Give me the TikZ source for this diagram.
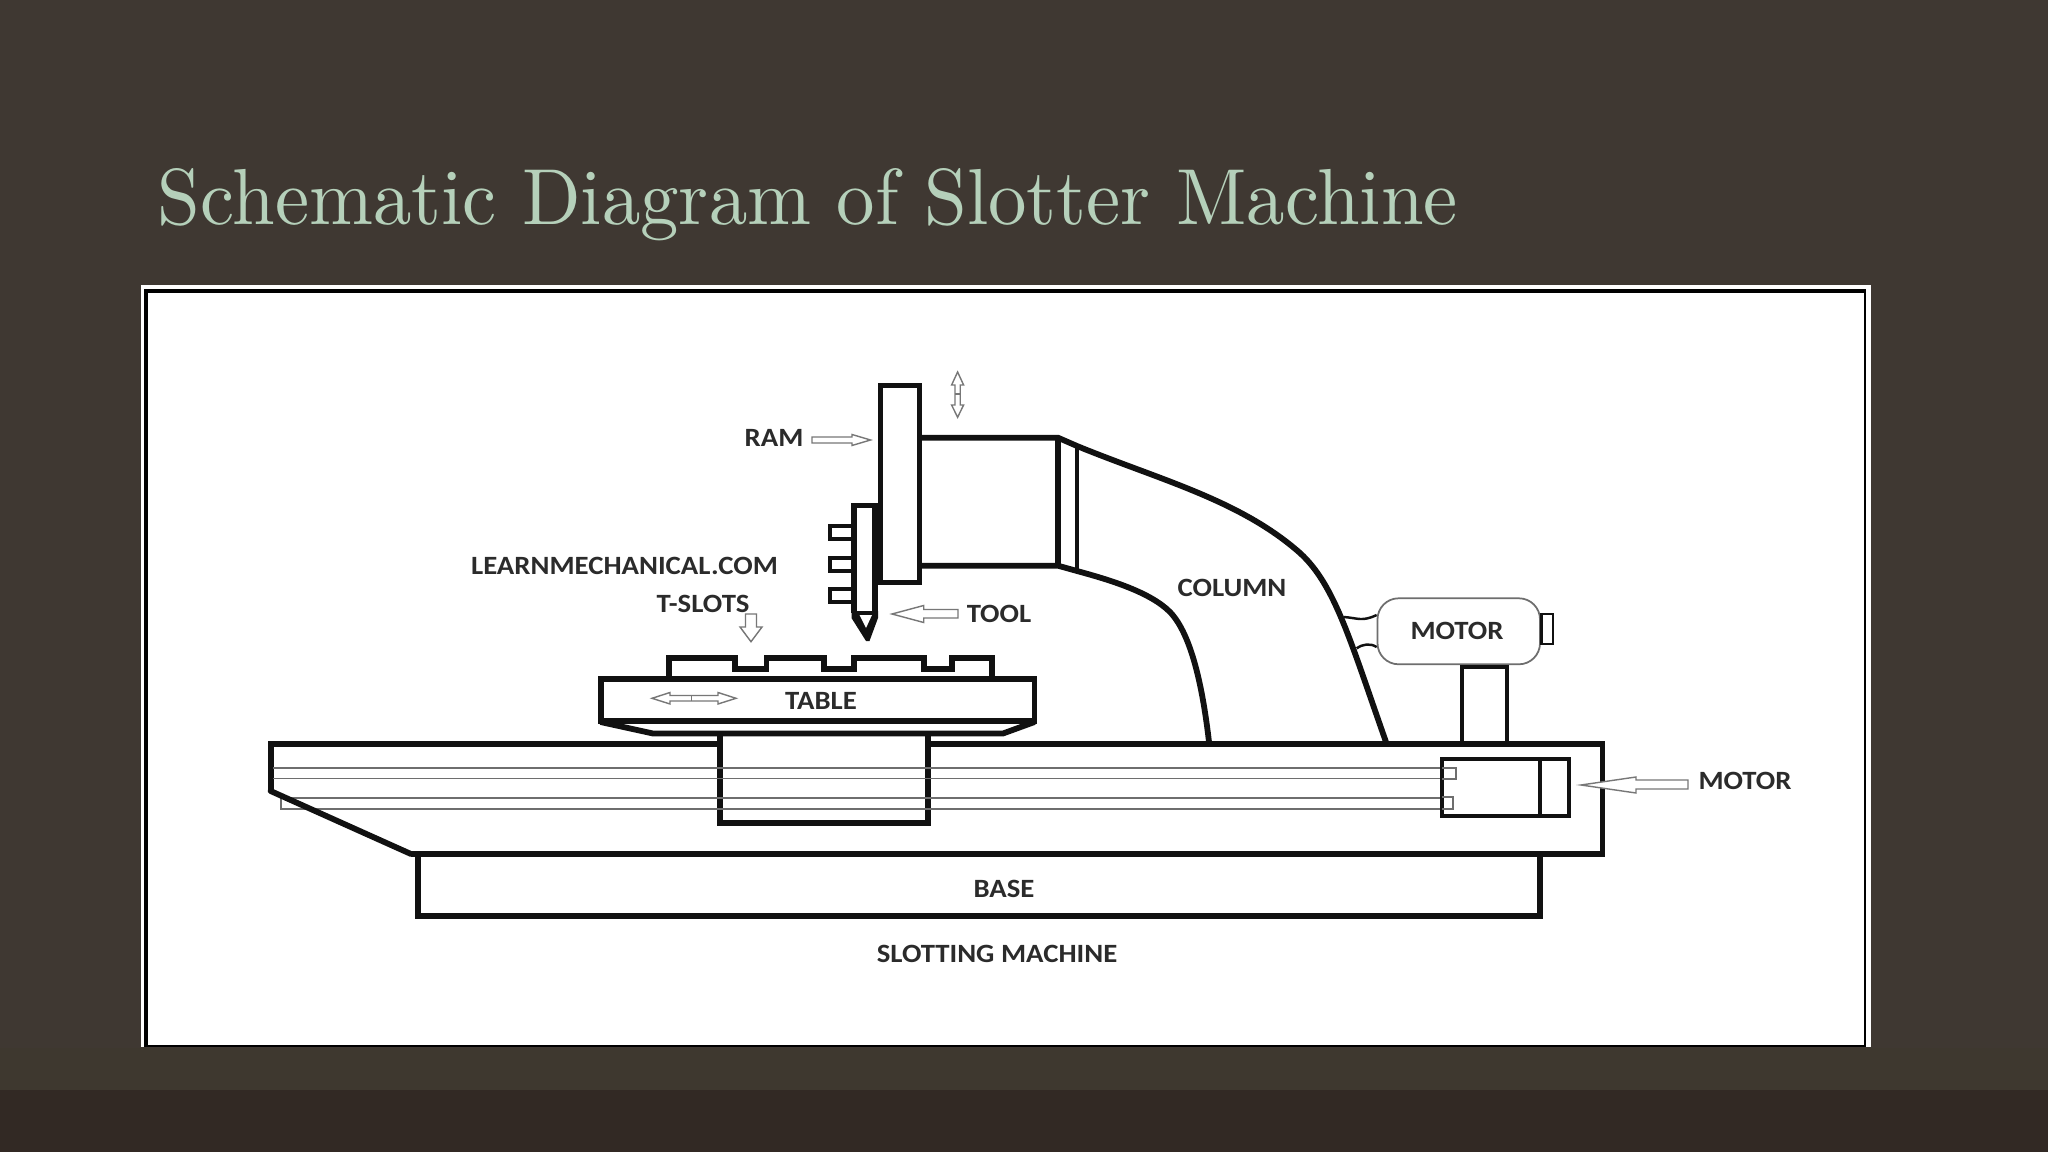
\documentclass[tikz,border=0pt]{standalone}
\usepackage{fontspec}
\newfontfamily\lblfont{Carlito}[FakeStretch=1.09]
\newfontfamily\titlefont{lmroman10-regular}[Extension=.otf,FakeStretch=0.966]
\definecolor{slidebg}{HTML}{3F3832}
\definecolor{slidemid}{HTML}{3E382F}
\definecolor{slidefoot}{HTML}{322924}
\definecolor{titlegreen}{HTML}{B5D0BA}
\definecolor{ink}{HTML}{111111}
\definecolor{labelink}{HTML}{2B2B2B}
\definecolor{fineline}{HTML}{6E6E6E}
\definecolor{arrowline}{HTML}{777777}
\tikzset{
  heavy/.style={draw=ink,line width=1.65pt,line join=miter},
  medium/.style={draw=ink,line width=1.1pt,line join=miter},
  thinrule/.style={draw=fineline,line width=0.42pt},
  hollow/.style={draw=arrowline,line width=0.4pt,fill=white,line join=miter},
  lbl/.style={inner sep=0pt,text=labelink,font=\lblfont\bfseries\fontsize{7.5pt}{8pt}\selectfont}
}
\begin{document}
\begin{tikzpicture}[x=0.01cm,y=-0.01cm]
\useasboundingbox (0,0) rectangle (2048,1152);
% slide background
\fill[slidebg] (0,0) rectangle (2048,1152);
\fill[slidemid] (0,1048) rectangle (2048,1090);
\fill[slidefoot] (0,1090) rectangle (2048,1152);
\node[anchor=base west,inner sep=0pt,text=titlegreen,font=\titlefont\fontsize{22.6pt}{26pt}\selectfont] (title) at (157,225) {Schematic Diagram of Slotter Machine};
% picture frame
\fill[white] (140.5,285.5) rectangle (1871,1047);
\fill[black] (144,289.5) rectangle (1866,1047);
\fill[white] (147.5,293) rectangle (1863.5,1044.5);

% base
\draw[heavy] (417.6,854) -- (417.6,916) -- (1540,916) -- (1540,854);
% bed
\draw[heavy] (411,854) -- (1602.5,854) -- (1602.5,744) -- (270.6,744) -- (270.6,791);
% sliding block
\draw[heavy,fill=white] (719.6,732) -- (719.6,823) -- (928,823) -- (928,732);
% slide rods
\draw[thinrule] (273,768) -- (1442,768);
\draw[thinrule] (273,778.3) -- (1442,778.3);
\draw[thinrule] (281,798) -- (1442,798);
\draw[thinrule] (281,798) -- (281,809) -- (1442,809);
\draw[heavy,line cap=round] (270.6,791) -- (411,854);
% lower motor
\draw[medium] (1442.4,759.3) rectangle (1569,815.7);
\draw[medium] (1540,759.3) -- (1540,815.7);
\draw[thinrule] (1442,768) -- (1456,768) -- (1456,779) -- (1442,779);
\draw[thinrule] (1442,797) -- (1453,797) -- (1453,809) -- (1442,809);
% table
\draw[heavy,line join=round,fill=white] (600.5,722) -- (653,733.5) -- (1003,733.5) -- (1034.5,722);
\draw[heavy,fill=white] (600.8,679) rectangle (1034.5,721);
% T-slot plate
\draw[heavy] (668.6,679) -- (668.6,657.7) -- (734.7,657.7) -- (734.7,669.3) -- (766.5,669.3) -- (766.5,657.7) -- (823.7,657.7) -- (823.7,669.3) -- (854,669.3) -- (854,657.7) -- (923.7,657.7) -- (923.7,669.3) -- (952,669.3) -- (952,657.7) -- (992,657.7) -- (992,679);
% column
\draw[heavy] (922,437.7) -- (1058,437.7) -- (1077,446)
  .. controls (1160,480) and (1240,500) .. (1300,553)
  .. controls (1335,585) and (1350,640) .. (1386,742);
\draw[heavy] (922,565.7) -- (1058,565.7) -- (1077,571)
  .. controls (1110,580) and (1150,592) .. (1170,612)
  .. controls (1192,635) and (1203,690) .. (1209,742);
\draw[heavy] (1058,437.7) -- (1058,565.7);
\draw[medium] (1077,445) -- (1077,571);
% ram and tool
\draw[heavy,fill=white] (880.5,385.5) rectangle (919.5,582.5);
\draw[heavy] (854.3,613) -- (854.3,505.5) -- (875,505.5) -- (875,613);
\fill[ink] (851.5,611) -- (878,611) -- (878,618) -- (869.5,641) -- (866,641) -- (851.5,618) -- cycle;
\fill[white] (859.5,615) -- (872,615) -- (866,628) -- cycle;
\draw[medium] (851,526) -- (830,526) -- (830,539) -- (851,539);
\draw[medium] (851,558) -- (830,558) -- (830,571) -- (851,571);
\draw[medium] (851,589) -- (830,589) -- (830,602) -- (851,602);
% upper motor
\node[draw=fineline,line width=0.5pt,rounded corners=6pt,fill=white,minimum width=162.5*0.01cm,minimum height=66*0.01cm,inner sep=0pt] (umotor) at (1458.75,631.3) {};
\draw[draw=ink,line width=0.7pt,fill=white] (1541.3,614) rectangle (1553,644);
\coordinate (cola) at (1343.6,617);
\coordinate (colb) at (1356.7,648.3);
\coordinate (mota) at (umotor.west |- 0,615);
\coordinate (motb) at (umotor.west |- 0,647);
\draw[draw=ink,line width=0.7pt] (cola) .. controls (1358,618) and (1362,622) .. (mota);
\draw[draw=ink,line width=0.7pt] (colb) .. controls (1363,644) and (1370,643) .. (motb);
% pedestal
\draw[medium] (1462.3,743) -- (1462.3,667) -- (1507,667) -- (1507,743);

% hollow arrows
\draw[hollow] (812,437) -- (852,437) -- (852,434.5) -- (870.5,440) -- (852,445.5) -- (852,443) -- (812,443) -- cycle;
\draw[hollow] (957.6,372) -- (963.6,385) -- (960.2,385) -- (960.2,405) -- (963.6,405) -- (957.6,417.3) -- (951.6,405) -- (955,405) -- (955,385) -- (951.6,385) -- cycle;
\draw[arrowline,line width=0.4pt] (955,394) -- (960.2,394);
\draw[hollow] (745.5,614) -- (756.5,614) -- (756.5,627) -- (762,627) -- (751,641.7) -- (740,627) -- (745.5,627) -- cycle;
\draw[hollow] (892,614) -- (923.7,605.5) -- (923.7,609.5) -- (958,609.5) -- (958,618) -- (923.7,618) -- (923.7,622.5) -- cycle;
\draw[hollow] (652,698.3) -- (670,692.5) -- (670,695.5) -- (718,695.5) -- (718,692.5) -- (736,698.3) -- (718,704) -- (718,701) -- (670,701) -- (670,704) -- cycle;
\draw[arrowline,line width=0.4pt] (691.5,695.5) -- (691.5,701);
\draw[hollow] (1581,785) -- (1636,777) -- (1636,780) -- (1688,780) -- (1688,789) -- (1636,789) -- (1636,793) -- cycle;

% labels
\node[lbl] (ram) at (774,438) {RAM};
\node[lbl] (site) at (624.5,566) {LEARNMECHANICAL.COM};
\node[lbl] (tslots) at (703,604) {T-SLOTS};
\node[lbl] (tool) at (999,614) {TOOL};
\node[lbl] (table) at (821,701) {TABLE};
\node[lbl] (column) at (1232,588) {COLUMN};
\node[lbl] (motorup) at (1457,631) {MOTOR};
\node[lbl] (motorlow) at (1745,781) {MOTOR};
\node[lbl] (base) at (1004,889) {BASE};
\node[lbl] (caption) at (997,954) {SLOTTING MACHINE};
\end{tikzpicture}
\end{document}
